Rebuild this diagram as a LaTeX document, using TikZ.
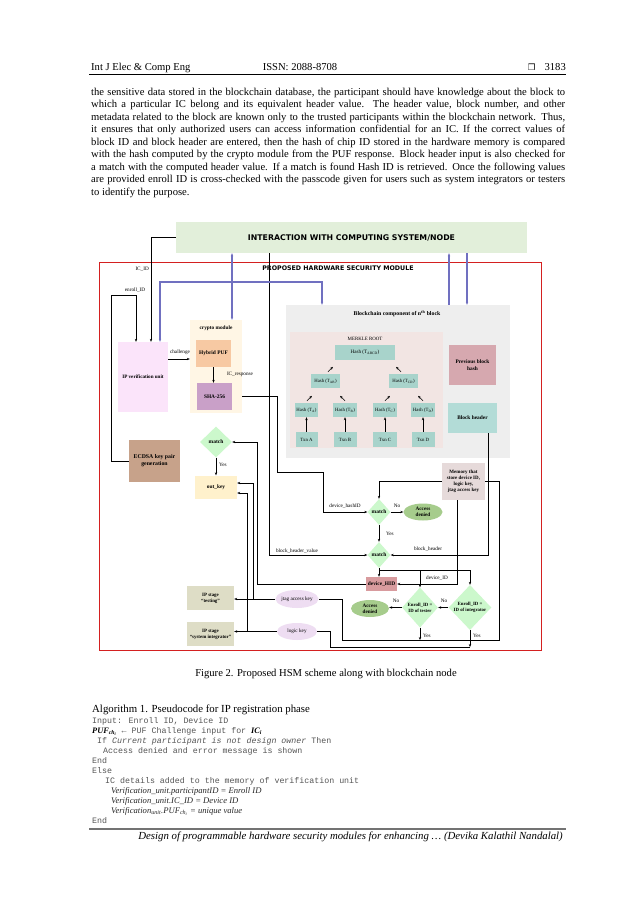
\documentclass[tikz,border=0pt]{standalone}
\usepackage{fontspec}
\setmainfont{Liberation Serif}
\newfontfamily\monofont{Liberation Mono}
\newfontfamily\dvsans{DejaVu Sans}
\usetikzlibrary{shapes.geometric,arrows.meta,calc}
\newcommand\myfs[1]{\fontsize{#1}{\dimexpr#1pt*6/5\relax}\selectfont}
\definecolor{cInter}{HTML}{E2EFDA}
\definecolor{cRed}{HTML}{D42020}
\definecolor{cBlue}{HTML}{7070C0}
\definecolor{cIPV}{HTML}{FBE4FA}
\definecolor{cCrypto}{HTML}{FFF6E5}
\definecolor{cPUF}{HTML}{F7C9A3}
\definecolor{cSHA}{HTML}{C9A0C8}
\definecolor{cECDSA}{HTML}{C7A28A}
\definecolor{cMatch}{HTML}{CCF8CC}
\definecolor{cOut}{HTML}{FFF1CC}
\definecolor{cBC}{HTML}{EEEEEE}
\definecolor{cMerk}{HTML}{F2E5E3}
\definecolor{cHash}{HTML}{A8D3CB}
\definecolor{cPrev}{HTML}{D6A8AF}
\definecolor{cBH}{HTML}{B3DCD7}
\definecolor{cMem}{HTML}{E6DADA}
\definecolor{cAD}{HTML}{A6CC8C}
\definecolor{cHID}{HTML}{D89B9E}
\definecolor{cStage}{HTML}{DEDDC6}
\definecolor{cKey}{HTML}{EEDDF2}
\definecolor{cAlg}{HTML}{555555}
\newcommand\bodyline[2]{\node[anchor=base west, inner sep=0pt, font=\myfs{10.6}] at (91,#1) {\makebox[474pt][s]{#2}};}
\begin{document}
\begin{tikzpicture}[x=1pt,y=-1pt,
  >={Stealth[length=3pt,width=2.4pt]},
  fb/.style={rectangle, inner sep=0pt, align=center, font=\myfs{5.4}\bfseries},
  hb/.style={rectangle, inner sep=0pt, align=center, font=\myfs{4.8}, fill=cHash},
  dm/.style={diamond, shape aspect=1, inner sep=0pt, align=center, font=\myfs{5.5}\bfseries, fill=cMatch},
  el/.style={ellipse, inner sep=0pt, align=center, font=\myfs{5.2}\bfseries},
  lb/.style={inner sep=0pt, font=\myfs{5.2}},
  arr/.style={->, line width=0.6pt},
  ln/.style={line width=0.6pt},
  barr/.style={draw=cBlue, line width=1.1pt},
  alg/.style={anchor=base west, inner sep=0pt, font=\monofont\myfs{8.3}, text=cAlg},
  mth/.style={anchor=base west, inner sep=0pt, font=\rmfamily\itshape\myfs{8.6}, text=black!85}
]
\useasboundingbox[fill=white] (0,0) rectangle (638,902);

% ---------- page header ----------
\node[anchor=base west, inner sep=0pt, font=\myfs{10.6}] (hl) at (91,70) {Int J Elec \& Comp Eng};
\node[anchor=base, inner sep=0pt, font=\myfs{10.6}] (hc) at (300,70) {ISSN: 2088-8708};
\node[anchor=base east, inner sep=0pt, font=\myfs{10.6}] (hr) at (566,70) {{\dvsans\myfs{8.5}❒}\hspace{9pt}3183};
\draw[line width=0.6pt] (89,74.5) -- (566,74.5);

% ---------- paragraph ----------
\bodyline{95}{the sensitive data stored in the blockchain database, the participant should have knowledge about the block to}
\bodyline{107.5}{which a particular IC belong and its equivalent header value. The header value, block number, and other}
\bodyline{120}{metadata related to the block are known only to the trusted participants within the blockchain network. Thus,}
\bodyline{132.5}{it ensures that only authorized users can access information confidential for an IC. If the correct values of}
\bodyline{145}{block ID and block header are entered, then the hash of chip ID stored in the hardware memory is compared}
\bodyline{157.5}{with the hash computed by the crypto module from the PUF response. Block header input is also checked for}
\bodyline{170}{a match with the computed header value. If a match is found Hash ID is retrieved. Once the following values}
\bodyline{182.5}{are provided enroll ID is cross-checked with the passcode given for users such as system integrators or testers}
\node[anchor=base west, inner sep=0pt, font=\myfs{10.6}] at (91,195) {to identify the purpose.};

% ---------- figure ----------
\node[fb, fill=cInter, minimum width=351pt, minimum height=31pt, font=\dvsans\bfseries\myfs{7.8}] (inter) at (351.5,237.5) {INTERACTION WITH COMPUTING SYSTEM/NODE};
\node[draw=cRed, line width=0.8pt, minimum width=442pt, minimum height=388pt, inner sep=0pt] (hsm) at (320,456) {};

\node[fb, fill=cIPV, minimum width=50pt, minimum height=70pt, font=\myfs{5.1}\bfseries] (ipv) at (143,377) {IP verification unit};
\node[fb, fill=cCrypto, minimum width=52pt, minimum height=93pt] (crypto) at (216,366.5) {};
\node[lb, font=\myfs{5.3}\bfseries] (cryptot) at (216,328) {crypto module};
\node[fb, fill=cPUF, minimum width=35pt, minimum height=27pt] (puf) at (213.5,353.5) {Hybrid PUF};
\node[fb, fill=cSHA, minimum width=35pt, minimum height=27pt] (sha) at (214.5,396.5) {SHA-256};
\node[fb, fill=cECDSA, minimum width=51pt, minimum height=42pt, font=\myfs{5.8}\bfseries] (ecdsa) at (154.5,461) {ECDSA key pair\\generation};
\node[dm, minimum width=32pt, minimum height=31pt] (mtop) at (216,442) {match};
\node[fb, fill=cOut, minimum width=42pt, minimum height=23pt] (outkey) at (216,487) {out\_key};

\node[fb, fill=cBC, minimum width=224pt, minimum height=153pt] (bc) at (398,381.5) {};
\node[lb, font=\myfs{5.8}\bfseries] (bct) at (397,313.5) {Blockchain component of n\textsuperscript{th} block};
\node[fb, fill=cMerk, minimum width=153pt, minimum height=116pt] (merk) at (366.5,390) {};
\node[lb, font=\myfs{4.9}] (merkt) at (365,339) {MERKLE ROOT};
\node[hb, minimum width=60pt, minimum height=15pt, font=\myfs{5.1}] (hABCD) at (365,352.5) {Hash (T\textsubscript{ABCD})};
\node[hb, minimum width=29pt, minimum height=14pt] (hAB) at (325.5,381) {Hash (T\textsubscript{AB})};
\node[hb, minimum width=29pt, minimum height=14pt] (hCD) at (403.5,381) {Hash (T\textsubscript{CD})};
\node[hb, minimum width=23pt, minimum height=14pt] (hA) at (306.5,410) {Hash (T\textsubscript{A})};
\node[hb, minimum width=24pt, minimum height=14pt] (hB) at (345,410) {Hash (T\textsubscript{B})};
\node[hb, minimum width=24pt, minimum height=14pt] (hC) at (385,410) {Hash (T\textsubscript{C})};
\node[hb, minimum width=24pt, minimum height=14pt] (hD) at (423,410) {Hash (T\textsubscript{D})};
\node[hb, minimum width=22pt, minimum height=15pt] (txA) at (306.5,439.5) {Txn A};
\node[hb, minimum width=23pt, minimum height=15pt] (txB) at (345,439.5) {Txn B};
\node[hb, minimum width=24pt, minimum height=15pt] (txC) at (385,439.5) {Txn C};
\node[hb, minimum width=23pt, minimum height=15pt] (txD) at (423,439.5) {Txn D};
\node[fb, fill=cPrev, minimum width=47pt, minimum height=40pt] (prev) at (472.5,365) {Previous block\\hash};
\node[fb, fill=cBH, minimum width=49pt, minimum height=30pt] (bh) at (472.5,418) {Block header};

\node[fb, fill=cMem, minimum width=43pt, minimum height=37pt, font=\myfs{5}\bfseries] (mem) at (463.5,481.5) {Memory that\\store device ID,\\logic key,\\jtag access key};
\node[dm, minimum width=23pt, minimum height=26pt] (m1) at (379,512) {match};
\node[dm, minimum width=23pt, minimum height=26pt] (m2) at (379,555) {match};
\node[el, fill=cAD, minimum width=39pt, minimum height=17pt] (ad1) at (423,512) {Access\\denied};
\node[fb, fill=cHID, minimum width=31pt, minimum height=14pt] (hid) at (381.5,584) {device\_HID};
\node[dm, minimum width=36pt, minimum height=40pt, font=\myfs{4.8}\bfseries] (tester) at (420,607.5) {Enroll\_ID =\\ID of tester};
\node[dm, minimum width=40pt, minimum height=45pt, font=\myfs{4.8}\bfseries] (integ) at (470,607.5) {Enroll\_ID =\\ID of integrator};
\node[el, fill=cAD, minimum width=38pt, minimum height=17pt] (ad2) at (370,608.5) {Access\\denied};
\node[el, fill=cKey, minimum width=43pt, minimum height=18pt, inner xsep=-5pt, font=\myfs{5.2}] (jtag) at (297,599) {jtag access key};
\node[el, fill=cKey, minimum width=40pt, minimum height=17pt, inner xsep=-3pt, font=\myfs{5.2}] (logic) at (297,631.5) {logic key};
\node[fb, fill=cStage, minimum width=47pt, minimum height=24pt, font=\myfs{4.9}\bfseries] (testing) at (210.5,598) {IP stage\\“testing”};
\node[fb, fill=cStage, minimum width=47pt, minimum height=24pt, font=\myfs{4.9}\bfseries] (sysint) at (210.5,634) {IP stage\\“system integrator”};

\node[lb, font=\dvsans\bfseries\myfs{6.3}] (hsmt) at (338,268) {PROPOSED HARDWARE SECURITY MODULE};

% coordinates for bends
\coordinate (e1) at (111,295);
\coordinate (b1) at (322,282);
\coordinate (d1) at (277,472);
\coordinate (d2) at (323,472);
\coordinate (ty) at (420,640);
\coordinate (iy) at (470,647);
\coordinate (q1) at (499,640);
\coordinate (q2) at (342,640);
\coordinate (s1) at (330,647);

% black connectors
\draw[arr] (inter.west) -| ([xshift=8pt]ipv.north);
\draw[arr] (ecdsa.west) -| (e1) -| ([xshift=-7pt]ipv.north);
\draw[arr] ([xshift=-82.5pt]inter.south) |- (m2.west);
\draw[arr] ([yshift=18pt]ipv.east) -- ([yshift=18pt]ipv.east -| crypto.west);
\draw[arr] (puf.south) -- (puf.south |- sha.north);
\draw[arr] (sha.east -| crypto.east) -| (d1) -- (d2) |- (m1.west);
\draw[arr] (mem.west) -| (m1.north);
\draw[arr] (m1.east) -- (ad1.west);
\draw[arr] (m1.south) -- (m2.north);
\draw[arr] ([xshift=15.5pt]bh.south) |- (m2.east);
\draw[arr] (m2.south) -- (m2.south |- hid.north);
\draw[arr] ([yshift=-2pt]m2.south) -| (tester.north);
\draw[arr] ([yshift=-2pt]m2.south) -| (integ.north);
\draw[arr] ([xshift=-6.5pt]mem.south) |- (hid.east);
\draw[arr] (hid.west) -| ([xshift=25pt]mtop.east) -- (mtop.east);
\draw[arr] (mtop.south) -- (outkey.north);
\draw[arr] (integ.west) -- (tester.east);
\draw[arr] (tester.west) -- (tester.west -| ad2.east);
\draw[arr] (tester.south) -- (ty);
\draw[arr] (integ.south) -- (iy);
\draw[ln] (mem.east) -| (q1) -- (q2) |- (jtag.east);
\draw[arr] (jtag.west) -- (jtag.west -| testing.east);
\draw[arr] ([xshift=-22pt]jtag.west) |- ([yshift=4pt]outkey.east);
\draw[arr] (logic.west) -- (logic.west -| sysint.east);
\draw[arr] ([xshift=-30pt]logic.west) |- ([yshift=-6pt]outkey.east);
\draw[ln] (logic.east) -| (s1) -- (iy);

% merkle arrows
\foreach \a/\b in {txA/hA, txB/hB, txC/hC, txD/hD} \draw[arr] (\a.north) -- (\b.south);
\draw[arr] ([xshift=0.5pt,yshift=2pt]hA.north) -- ++(5,-5);
\draw[arr] ([yshift=2pt]hB.north) -- ++(-5,-5);
\draw[arr] ([yshift=2pt]hC.north) -- ++(5,-5);
\draw[arr] ([yshift=2pt]hD.north) -- ++(-5,-5);
\draw[arr] ([xshift=2.5pt,yshift=2pt]hAB.north) -- ++(5,-5);
\draw[arr] ([xshift=-2.5pt,yshift=2pt]hCD.north) -- ++(-5,-5);

% blue connectors
\draw[barr,<->] ([xshift=17pt]ipv.north) |- (b1) -- (b1 |- bc.north);
\draw[barr,<->] ([xshift=16pt]crypto.north) -- ([xshift=16pt]crypto.north |- inter.south);
\draw[barr,->] ([xshift=51pt]bc.north) -- ([xshift=51pt]bc.north |- inter.south);
\draw[barr,<-] ([xshift=69pt]bc.north) -- ([xshift=69pt]bc.north |- inter.south);

% labels
\node[lb, anchor=east] at (149,269) {IC\_ID};
\node[lb] at (135,290) {enroll\_ID};
\node[lb] at (180,352) {challenge};
\node[lb] at (240,374) {IC\_response};
\node[lb, anchor=west] at (219,465) {Yes};
\node[lb] at (345,506) {device\_hashID};
\node[lb] at (397,506) {No};
\node[lb, anchor=west] at (386,534) {Yes};
\node[lb] at (297,551) {block\_header\_value};
\node[lb] at (428,549) {block\_header};
\node[lb] at (437,578) {device\_ID};
\node[lb] at (444,601) {No};
\node[lb] at (396,601) {No};
\node[lb, anchor=west] at (423,636) {Yes};
\node[lb, anchor=west] at (473,636) {Yes};

% ---------- caption ----------
\node[anchor=base, inner sep=0pt, font=\myfs{10.6}] (cap) at (326,676) {Figure 2. Proposed HSM scheme along with blockchain node};

% ---------- algorithm ----------
\node[anchor=base west, inner sep=0pt, font=\myfs{10.8}] (algt) at (92,712) {Algorithm 1. Pseudocode for IP registration phase};
\node[alg] at (92,723) {Input: Enroll ID, Device ID};
\node[alg] at (92,733) {{\rmfamily\bfseries\itshape\color{black}PUF\textsubscript{ch\textsubscript{i}}} ← PUF Challenge input for {\rmfamily\bfseries\itshape\color{black}IC\textsubscript{i}}};
\node[alg] at (97,743) {If {\itshape Current participant is not design owner} Then};
\node[alg] at (103,753) {Access denied and error message is shown};
\node[alg] at (92,763) {End};
\node[alg] at (92,773) {Else};
\node[alg] at (105,783) {IC details added to the memory of verification unit};
\node[mth] at (111,793) {Verification\_unit.participantID = Enroll ID};
\node[mth] at (111,803) {Verification\_unit.IC\_ID = Device ID};
\node[mth] at (111,813) {Verification\textsubscript{unit}.PUF\textsubscript{ch\textsubscript{i}} = unique value};
\node[alg] at (92,823) {End};

% ---------- footer ----------
\draw[line width=2pt, black!55] (89,828.5) -- (566,828.5);
\node[anchor=base east, inner sep=0pt, font=\myfs{10.8}\itshape] (foot) at (563,839) {Design of programmable hardware security modules for enhancing … (Devika Kalathil Nandalal)};
\end{tikzpicture}
\end{document}
